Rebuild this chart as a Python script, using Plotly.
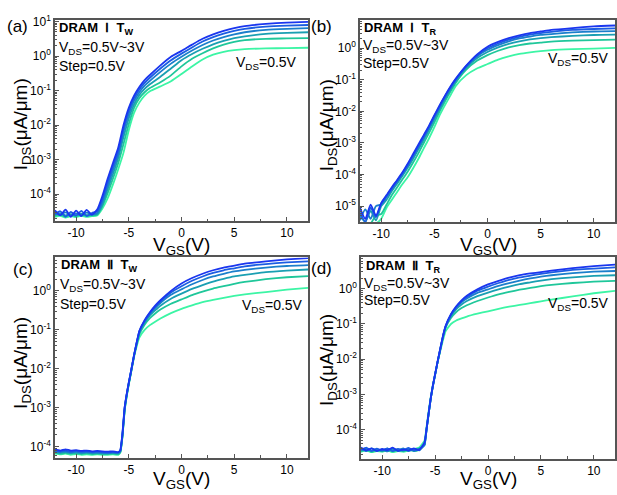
import plotly.graph_objects as go
import numpy as np

# ---------------- data (log10 of I_DS in uA/um) ----------------
VDS_LABELS = ["0.5", "1.0", "1.5", "2.0", "2.5", "3.0"]
COLORS = ["#3cf5a5", "#1fc79a", "#1a9fb2", "#1b7fcb", "#1c5de2", "#1a36ef"]

VGS_AB = [-12, -11.5, -11, -10.5, -10, -9.5, -9, -8.5, -8, -7.5, -7, -6.5, -6, -5.5, -5,
          -4.5, -4, -3.5, -3, -2, -1, 0, 1, 2, 3, 4, 5, 6, 8, 10, 12]

A_05 = [-4.66, -4.63, -4.68, -4.64, -4.67, -4.63, -4.66, -4.64, -4.62, -4.42, -4.12, -3.72, -3.28, -2.8, -2.15,
        -1.65, -1.35, -1.15, -1.02, -0.88, -0.73, -0.52, -0.3, -0.1, 0.04, 0.12, 0.17, 0.2, 0.22, 0.23, 0.24]
A_10 = [-4.63, -4.6, -4.65, -4.61, -4.64, -4.6, -4.63, -4.62, -4.6, -4.35, -3.97, -3.55, -3.1, -2.55, -1.97,
        -1.5, -1.22, -1.05, -0.93, -0.76, -0.56, -0.3, -0.08, 0.08, 0.22, 0.33, 0.41, 0.46, 0.5, 0.51, 0.52]
A_15 = [-4.6, -4.56, -4.62, -4.58, -4.63, -4.57, -4.61, -4.6, -4.58, -4.3, -3.85, -3.42, -2.95, -2.35, -1.8,
        -1.4, -1.13, -0.95, -0.82, -0.6, -0.36, -0.12, 0.06, 0.21, 0.34, 0.44, 0.52, 0.57, 0.64, 0.67, 0.69]
A_20 = [-4.55, -4.6, -4.53, -4.62, -4.56, -4.6, -4.54, -4.58, -4.55, -4.22, -3.75, -3.3, -2.85, -2.2, -1.68,
        -1.3, -1.05, -0.86, -0.72, -0.46, -0.22, -0.02, 0.16, 0.32, 0.45, 0.55, 0.63, 0.69, 0.76, 0.79, 0.81]
A_25 = [-4.58, -4.5, -4.66, -4.52, -4.62, -4.49, -4.64, -4.55, -4.5, -4.15, -3.65, -3.2, -2.75, -2.1, -1.58,
        -1.22, -0.97, -0.78, -0.63, -0.36, -0.12, 0.07, 0.25, 0.42, 0.55, 0.65, 0.73, 0.79, 0.85, 0.88, 0.9]
A_30 = [-4.47, -4.62, -4.45, -4.66, -4.48, -4.64, -4.46, -4.6, -4.45, -4.05, -3.55, -3.1, -2.65, -2.0, -1.5,
        -1.15, -0.9, -0.7, -0.55, -0.27, -0.02, 0.15, 0.33, 0.5, 0.63, 0.73, 0.81, 0.87, 0.93, 0.97, 0.99]

B_05 = [-5.6, -5.6, -5.6, -5.55, -5.4, -5.05, -4.8, -4.55, -4.3, -4.08, -3.8, -3.5, -3.17, -2.85, -2.5,
        -2.12, -1.8, -1.5, -1.2, -0.85, -0.64, -0.5, -0.36, -0.26, -0.18, -0.13, -0.09, -0.06, -0.03, -0.01, 0.01]
B_10 = [-5.6, -5.6, -5.55, -5.3, -5.25, -4.95, -4.65, -4.4, -4.15, -3.9, -3.62, -3.32, -3.0, -2.68, -2.35,
        -2.0, -1.68, -1.38, -1.1, -0.68, -0.4, -0.22, -0.08, 0.03, 0.1, 0.15, 0.18, 0.21, 0.24, 0.26, 0.27]
B_15 = [-5.3, -5.5, -5.15, -5.45, -5.0, -4.8, -4.52, -4.28, -4.04, -3.78, -3.5, -3.2, -2.9, -2.58, -2.25,
        -1.92, -1.6, -1.32, -1.05, -0.62, -0.32, -0.12, 0.03, 0.14, 0.22, 0.28, 0.32, 0.35, 0.39, 0.42, 0.43]
B_20 = [-5.45, -5.1, -5.4, -5.0, -4.95, -4.72, -4.47, -4.22, -3.98, -3.72, -3.43, -3.13, -2.83, -2.52, -2.19,
        -1.86, -1.55, -1.27, -1.01, -0.58, -0.26, -0.05, 0.1, 0.22, 0.31, 0.37, 0.42, 0.45, 0.5, 0.53, 0.54]
B_25 = [-5.2, -5.5, -5.05, -5.35, -4.92, -4.68, -4.43, -4.19, -3.95, -3.68, -3.39, -3.09, -2.79, -2.48, -2.15,
        -1.83, -1.52, -1.24, -0.99, -0.56, -0.23, 0.0, 0.15, 0.27, 0.36, 0.43, 0.48, 0.52, 0.58, 0.61, 0.63]
B_30 = [-5.05, -5.4, -4.95, -5.3, -4.9, -4.65, -4.4, -4.17, -3.93, -3.65, -3.35, -3.05, -2.75, -2.45, -2.12,
        -1.8, -1.5, -1.22, -0.97, -0.55, -0.2, 0.05, 0.2, 0.32, 0.41, 0.48, 0.53, 0.58, 0.64, 0.69, 0.72]

VGS_CD = [-12, -11.5, -11, -10.5, -10, -9.5, -9, -8.5, -8, -7.5, -7, -6.5, -6, -5.8, -5.6, -5.4, -5.2, -5,
          -4.75, -4.5, -4.25, -4, -3.5, -3, -2.5, -2, -1, 0, 1, 2, 3, 4, 5, 6, 8, 10, 12]

C_05 = [-4.18, -4.2, -4.18, -4.21, -4.19, -4.21, -4.2, -4.21, -4.2, -4.21, -4.21, -4.2, -4.21, -4.15, -3.75, -3.1, -2.72, -2.4,
        -2.05, -1.7, -1.42, -1.2, -1.0, -0.88, -0.79, -0.71, -0.57, -0.46, -0.37, -0.29, -0.23, -0.18, -0.13, -0.09, -0.03, 0.03, 0.08]
C_10 = [-4.16, -4.18, -4.16, -4.18, -4.17, -4.19, -4.17, -4.19, -4.18, -4.19, -4.19, -4.18, -4.19, -4.14, -3.74, -3.08, -2.7, -2.39,
        -2.04, -1.67, -1.37, -1.12, -0.87, -0.7, -0.58, -0.48, -0.33, -0.22, -0.11, -0.02, 0.06, 0.12, 0.18, 0.23, 0.3, 0.35, 0.38]
C_15 = [-4.14, -4.16, -4.14, -4.16, -4.15, -4.17, -4.15, -4.17, -4.16, -4.17, -4.17, -4.16, -4.17, -4.12, -3.72, -3.06, -2.68, -2.38,
        -2.03, -1.66, -1.35, -1.08, -0.82, -0.63, -0.5, -0.38, -0.2, -0.07, 0.05, 0.15, 0.24, 0.31, 0.37, 0.41, 0.48, 0.52, 0.55]
C_20 = [-4.12, -4.14, -4.12, -4.15, -4.13, -4.15, -4.14, -4.15, -4.15, -4.16, -4.16, -4.15, -4.16, -4.11, -3.7, -3.04, -2.67, -2.37,
        -2.02, -1.65, -1.34, -1.06, -0.79, -0.59, -0.44, -0.31, -0.1, 0.04, 0.17, 0.28, 0.37, 0.44, 0.5, 0.54, 0.6, 0.64, 0.66]
C_25 = [-4.1, -4.12, -4.1, -4.13, -4.11, -4.13, -4.12, -4.14, -4.13, -4.14, -4.15, -4.14, -4.15, -4.1, -3.68, -3.02, -2.66, -2.36,
        -2.01, -1.65, -1.33, -1.04, -0.77, -0.57, -0.41, -0.27, -0.04, 0.12, 0.26, 0.37, 0.46, 0.53, 0.58, 0.63, 0.69, 0.73, 0.76]
C_30 = [-4.08, -4.1, -4.07, -4.1, -4.09, -4.11, -4.1, -4.12, -4.11, -4.12, -4.13, -4.12, -4.14, -4.08, -3.65, -3.0, -2.65, -2.35,
        -2.0, -1.65, -1.32, -1.03, -0.75, -0.55, -0.38, -0.24, 0.0, 0.19, 0.33, 0.44, 0.53, 0.6, 0.65, 0.7, 0.76, 0.81, 0.84]

D_05 = [-4.62, -4.58, -4.63, -4.6, -4.62, -4.58, -4.63, -4.6, -4.62, -4.58, -4.55, -4.5, -4.3, -3.9, -3.45, -3.05, -2.72, -2.43,
        -2.07, -1.75, -1.45, -1.2, -1.0, -0.9, -0.84, -0.79, -0.71, -0.64, -0.57, -0.51, -0.46, -0.41, -0.36, -0.31, -0.22, -0.13, -0.06]
D_10 = [-4.6, -4.56, -4.62, -4.57, -4.6, -4.55, -4.61, -4.57, -4.59, -4.56, -4.6, -4.56, -4.42, -3.96, -3.52, -3.09, -2.74, -2.44,
        -2.06, -1.72, -1.38, -1.1, -0.83, -0.66, -0.55, -0.47, -0.35, -0.25, -0.16, -0.09, -0.03, 0.02, 0.07, 0.11, 0.16, 0.2, 0.22]
D_15 = [-4.58, -4.53, -4.59, -4.55, -4.6, -4.53, -4.57, -4.55, -4.6, -4.54, -4.58, -4.53, -4.43, -3.98, -3.53, -3.1, -2.75, -2.44,
        -2.06, -1.71, -1.36, -1.08, -0.78, -0.58, -0.45, -0.35, -0.21, -0.11, -0.02, 0.06, 0.13, 0.18, 0.23, 0.27, 0.32, 0.36, 0.38]
D_20 = [-4.54, -4.6, -4.52, -4.58, -4.55, -4.61, -4.53, -4.57, -4.52, -4.6, -4.54, -4.58, -4.42, -3.98, -3.53, -3.1, -2.75, -2.44,
        -2.06, -1.7, -1.35, -1.07, -0.75, -0.54, -0.39, -0.28, -0.12, -0.02, 0.08, 0.16, 0.23, 0.29, 0.34, 0.38, 0.44, 0.48, 0.5]
D_25 = [-4.56, -4.5, -4.6, -4.53, -4.58, -4.52, -4.6, -4.54, -4.57, -4.51, -4.59, -4.55, -4.4, -3.97, -3.52, -3.09, -2.74, -2.43,
        -2.05, -1.69, -1.34, -1.06, -0.73, -0.52, -0.36, -0.24, -0.06, 0.06, 0.16, 0.25, 0.32, 0.37, 0.42, 0.46, 0.53, 0.57, 0.6]
D_30 = [-4.5, -4.58, -4.52, -4.6, -4.54, -4.57, -4.5, -4.6, -4.55, -4.58, -4.52, -4.57, -4.35, -3.95, -3.5, -3.07, -2.72, -2.42,
        -2.04, -1.68, -1.33, -1.05, -0.72, -0.5, -0.33, -0.2, -0.02, 0.12, 0.22, 0.31, 0.38, 0.43, 0.47, 0.51, 0.58, 0.64, 0.68]

X_TICKS = [-10, -5, 0, 5, 10]
X_TICK_TEXT = ["-10", "-5", "0", "5", "10"]

# ---------------- layout helpers ----------------
W, H = 617, 495
FONT = "Arial, Liberation Sans, sans-serif"
AXC = "#555555"


def fx(p):
    return p / W


def fy(p):
    return 1 - p / H


panels = [
    dict(key="", label="(a)", title="<b>DRAM&nbsp;&nbsp;Ⅰ&nbsp;&nbsp;T<sub>W</sub></b>", vgs=VGS_AB, sm=0.6,
         curves=[A_05, A_10, A_15, A_20, A_25, A_30], dom=(55, 308, 13, 217), yr=(-4.78, 1.05), dec=(-4, 1),
         lab=(5, 20), ttl=(57, 22), l1=(57, 42), l2=(57, 60), rt=(299, 57), yt=(22, 119), xt=(181, 242)),
    dict(key="2", label="(b)", title="<b>DRAM&nbsp;&nbsp;Ⅰ&nbsp;&nbsp;T<sub>R</sub></b>", vgs=VGS_AB, sm=0.6,
         curves=[B_05, B_10, B_15, B_20, B_25, B_30], dom=(360, 615, 13, 218), yr=(-5.5, 0.9), dec=(-5, 0),
         lab=(309, 20), ttl=(362, 22), l1=(361, 40), l2=(361, 57), rt=(611, 53), yt=(328, 120), xt=(488, 242)),
    dict(key="3", label="(c)", title="<b>DRAM&nbsp;&nbsp;Ⅱ&nbsp;&nbsp;T<sub>W</sub></b>", vgs=VGS_CD, sm=0.35,
         curves=[C_05, C_10, C_15, C_20, C_25, C_30], dom=(55, 308, 254, 457), yr=(-4.28, 0.86), dec=(-4, 0),
         lab=(11, 266), ttl=(59, 262), l1=(58, 282), l2=(58, 301), rt=(305, 303), yt=(22, 361), xt=(181, 480)),
    dict(key="4", label="(d)", title="<b>DRAM&nbsp;&nbsp;Ⅱ&nbsp;&nbsp;T<sub>R</sub></b>", vgs=VGS_CD, sm=0.35,
         curves=[D_05, D_10, D_15, D_20, D_25, D_30], dom=(361, 615, 254, 458), yr=(-4.81, 0.885), dec=(-4, 0),
         lab=(309, 265), ttl=(364, 263), l1=(362, 281), l2=(362, 297), rt=(611, 301), yt=(328, 358), xt=(488, 480)),
]

fig = go.Figure()
layout = dict(width=W, height=H, autosize=False, margin=dict(l=0, r=0, t=0, b=0),
              paper_bgcolor="white", plot_bgcolor="white", showlegend=False,
              font=dict(family=FONT, color="black", size=12))
annotations = []

for p in panels:
    k = p["key"]
    for lab, col, logi in zip(VDS_LABELS, COLORS, p["curves"]):
        fig.add_trace(go.Scatter(
            x=p["vgs"], y=np.power(10.0, np.array(logi)), mode="lines",
            line=dict(color=col, width=1.8, shape="spline", smoothing=p["sm"]),
            name="V<sub>DS</sub>=" + lab + "V", xaxis="x" + k, yaxis="y" + k, hoverinfo="skip"))
    x0, x1, y0, y1 = p["dom"]
    d0, d1 = p["dec"]
    yvals = [10.0 ** e for e in range(d0, d1 + 1)]
    ytext = ["10<sup>%d</sup>" % e for e in range(d0, d1 + 1)]
    minor_vals = [m * 10.0 ** e for e in range(d0 - 1, d1 + 1) for m in range(2, 10)]
    layout["xaxis" + k] = dict(
        domain=[fx(x0), fx(x1)], range=[-12, 12], anchor="y" + k,
        tickmode="array", tickvals=X_TICKS, ticktext=X_TICK_TEXT,
        ticks="inside", ticklen=4, tickwidth=1.2, tickcolor=AXC,
        minor=dict(tickmode="linear", tick0=-7.5, dtick=5, ticks="inside", ticklen=2.5, tickwidth=1, tickcolor=AXC),
        showline=True, linecolor=AXC, linewidth=1.5, mirror=True,
        showgrid=False, zeroline=False, tickfont=dict(size=12, family=FONT, color="black"))
    layout["yaxis" + k] = dict(
        domain=[fy(y1), fy(y0)], type="log", range=list(p["yr"]), anchor="x" + k,
        tickmode="array", tickvals=yvals, ticktext=ytext,
        ticks="inside", ticklen=4, tickwidth=1.2, tickcolor=AXC,
        minor=dict(tickmode="array", tickvals=minor_vals, ticks="inside", ticklen=2.5, tickwidth=1, tickcolor=AXC),
        showline=True, linecolor=AXC, linewidth=1.5, mirror=True,
        showgrid=False, zeroline=False, tickfont=dict(size=12, family=FONT, color="black"))

    def ann(text, pos, xa="left", size=14, angle=0):
        annotations.append(dict(text=text, x=fx(pos[0]), y=fy(pos[1]), xref="paper", yref="paper",
                                xanchor=xa, yanchor="middle", showarrow=False, textangle=angle,
                                font=dict(size=size, family=FONT, color="black")))

    ann(p["label"], p["lab"], size=17)
    ann(p["title"], p["ttl"], size=13)
    ann("V<sub>DS</sub>=0.5V~3V", p["l1"], size=14)
    ann("Step=0.5V", p["l2"], size=14)
    ann("V<sub>DS</sub>=0.5V", p["rt"], xa="right", size=14)
    ann("I<sub>DS</sub>(μA/μm)", p["yt"], xa="center", size=19, angle=-90)
    ann("V<sub>GS</sub>(V)", p["xt"], xa="center", size=19)

layout["annotations"] = annotations
fig.update_layout(**layout)
fig.write_html("out.html")
